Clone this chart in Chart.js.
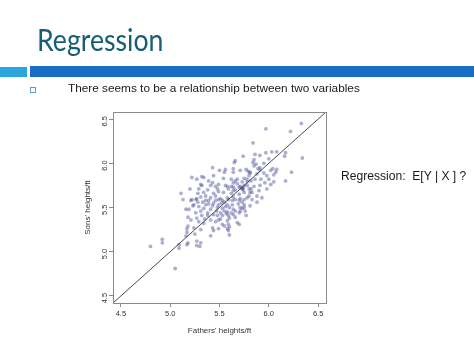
<!DOCTYPE html>
<html>
<head>
<meta charset="utf-8">
<script src="https://cdn.jsdelivr.net/npm/chart.js@4/dist/chart.umd.min.js"></script>
<style>
  html, body { margin: 0; padding: 0; background: #fff; }
  #wrap { position: relative; width: 474px; height: 355px; overflow: hidden; }
  #c { position: absolute; left: 0; top: 0; }
  .t { position: absolute; white-space: nowrap; }
  #title { left: 37px; top: 20px; font-family: Lato, "Open Sans", sans-serif; font-size: 31px; color: #175e75; transform: scaleX(0.86); transform-origin: 0 0; }
  #barL { position: absolute; left: 0; top: 67px; width: 27px; height: 10px; background: #2aa5de; }
  #barR { position: absolute; left: 30px; top: 66px; width: 444px; height: 11px; background: #1b6cc4; }
  #bullet { position: absolute; left: 30px; top: 87px; width: 4px; height: 4px; border: 1px solid #5a9fd0; }
  #sub { left: 68px; top: 81px; font-family: "Liberation Sans", Arial, sans-serif; font-size: 11.8px; color: #1a1a1a; }
  #side { left: 341px; top: 169px; font-family: "Liberation Sans", Arial, sans-serif; font-size: 12.1px; color: #1a1a1a; }
</style>
</head>
<body>
<div id="wrap">
  <canvas id="c" width="474" height="355"></canvas>
  <div class="t" id="title">Regression</div>
  <div id="barL"></div>
  <div id="barR"></div>
  <div id="bullet"></div>
  <div class="t" id="sub">There seems to be a relationship between two variables</div>
  <div class="t" id="side">Regression:&nbsp; E[Y | X ] ?</div>
</div>
<script>
const fatherHeights = [6.33,5.97,6.22,5.84,6.34,6.17,6.16,6.08,6.03,5.97,5.86,5.91,5.74,5.66,5.65,5.85,5.84,6.00,5.95,5.91,6.04,6.08,6.02,6.07,6.23,6.17,
5.43,5.50,5.56,5.55,5.64,5.64,5.71,5.77,5.79,5.81,5.88,5.95,5.98,5.92,5.86,5.82,5.75,5.68,5.66,5.62,5.54,5.44,5.34,5.27,
5.32,5.41,5.49,5.56,5.58,5.64,5.71,5.73,5.78,5.80,5.85,5.91,5.96,6.02,5.98,5.90,5.83,5.75,5.70,5.64,5.62,5.54,5.49,5.44,5.38,5.28,5.20,5.11,
5.13,5.22,5.27,5.31,5.36,5.41,5.39,5.46,5.51,5.53,5.58,5.59,5.64,5.66,5.71,5.78,5.83,5.88,5.93,
5.88,5.81,5.75,5.69,5.71,5.63,5.56,5.49,5.48,5.43,5.36,5.34,5.29,5.24,5.19,
5.26,5.31,5.38,5.44,5.51,5.53,5.58,5.59,5.64,5.70,5.76,5.77,5.66,5.60,5.58,5.68,5.70,
5.51,5.46,5.41,5.34,5.29,5.27,5.21,5.18,5.17,5.24,5.31,5.43,5.44,5.49,5.59,5.60,
5.41,5.60,5.25,5.17,5.16,5.27,5.31,5.17,5.18,5.27,5.30,5.09,5.09,5.05,4.80,4.92,4.92,
6.05,6.00,6.05,5.21,5.23,5.16,5.18,5.33,5.22,5.32,
5.59,5.62,5.64,5.68,5.70,5.66,5.73,5.75,5.78,5.49,5.52,5.55,5.58,5.60,5.63,5.70,5.73,5.75,5.46,5.44,5.47,5.53,5.55,5.57,5.64,5.66,5.62,5.71,5.73,5.75,
5.80,5.81,5.82,5.78,5.80,5.81,5.85,5.87,5.89,5.91,
5.31,5.29,5.34,5.39,5.43,5.46,5.48,5.26,5.28,5.36,5.39,5.41,5.38,5.32,5.35,5.48,5.49,5.53,5.55,5.58,5.59,
5.74,5.74,5.73];

const sonHeights = [6.45,6.39,6.36,6.23,6.06,6.12,6.08,6.13,6.13,6.12,6.10,6.09,6.08,6.03,6.01,6.04,6.01,6.05,6.00,5.95,5.94,5.93,5.92,5.90,5.90,5.80,
5.95,5.92,5.93,5.90,5.94,5.90,5.92,5.93,5.91,5.90,5.88,5.89,5.86,5.82,5.82,5.80,5.83,5.82,5.80,5.82,5.83,5.86,5.84,5.82,
5.75,5.75,5.76,5.75,5.74,5.73,5.74,5.71,5.75,5.71,5.74,5.75,5.78,5.76,5.71,5.69,5.67,5.67,5.65,5.69,5.66,5.67,5.68,5.66,5.70,5.66,5.71,5.66,
5.59,5.59,5.60,5.62,5.63,5.61,5.58,5.63,5.60,5.58,5.61,5.59,5.62,5.59,5.60,5.61,5.59,5.63,5.61,
5.56,5.52,5.53,5.54,5.50,5.53,5.51,5.53,5.50,5.52,5.53,5.49,5.51,5.53,5.48,
5.44,5.46,5.44,5.42,5.44,5.41,5.45,5.41,5.42,5.44,5.46,5.41,5.39,5.38,5.35,5.33,5.31,
5.37,5.34,5.36,5.32,5.34,5.38,5.36,5.29,5.26,5.27,5.25,5.27,5.24,5.26,5.31,5.28,
5.18,5.19,5.20,5.22,5.18,5.12,5.10,5.08,5.10,5.07,5.06,5.04,5.08,4.81,5.06,5.14,5.10,
5.79,5.82,5.87,5.58,5.52,5.48,5.39,5.56,5.84,5.85,
5.71,5.74,5.78,5.77,5.73,5.70,5.79,5.75,5.79,5.59,5.55,5.56,5.53,5.50,5.58,5.58,5.56,5.59,5.58,5.55,5.46,5.49,5.46,5.43,5.48,5.46,5.44,5.46,5.49,5.50,
5.63,5.67,5.71,5.82,5.86,5.89,5.97,5.99,5.94,5.92,
5.76,5.71,5.67,5.80,5.78,5.74,5.71,5.59,5.56,5.58,5.54,5.48,5.41,5.41,5.37,5.41,5.36,5.31,5.29,5.26,5.24,
5.72,5.70,5.72];

const axisRange = [4.42, 6.58];
const xTicks = [4.5, 5.0, 5.5, 6.0, 6.5];
const yTicks = [4.5, 5.0, 5.5, 6.0, 6.5];
const xTitle = "Fathers' heights/ft";
const yTitle = "Sons' heights/ft";

const n = Math.min(fatherHeights.length, sonHeights.length);
const pts = [];
for (let i = 0; i < n; i++) pts.push({ x: fatherHeights[i], y: sonHeights[i] });
const diag = axisRange.map(v => ({ x: v, y: v }));

const boxPlugin = {
  id: 'box',
  afterDatasetsDraw(chart) {
    const a = chart.chartArea, ctx = chart.ctx;
    ctx.save();
    ctx.strokeStyle = '#8a8a8a';
    ctx.lineWidth = 1;
    ctx.strokeRect(Math.round(a.left) + 0.5, Math.round(a.top) + 0.5, Math.round(a.right - a.left), Math.round(a.bottom - a.top));
    ctx.restore();
  }
};

const tickFont = { family: 'Liberation Sans', size: 7.5 };

new Chart(document.getElementById('c'), {
  type: 'scatter',
  data: {
    datasets: [
      {
        data: pts,
        pointRadius: 1.9,
        pointHoverRadius: 1.9,
        pointBackgroundColor: 'rgba(75,75,150,0.45)',
        pointBorderWidth: 0,
        order: 2
      },
      {
        type: 'line',
        data: diag,
        showLine: true,
        borderColor: '#333',
        borderWidth: 0.9,
        pointRadius: 0,
        fill: false,
        order: 1
      }
    ]
  },
  options: {
    responsive: false,
    animation: false,
    events: [],
    layout: { padding: { left: 80, top: 112, right: 148, bottom: 19 } },
    plugins: { legend: { display: false }, tooltip: { enabled: false } },
    scales: {
      x: {
        type: 'linear',
        min: axisRange[0], max: axisRange[1],
        afterBuildTicks: s => { s.ticks = xTicks.map(v => ({ value: v })); },
        afterFit: s => { s.height = 33; },
        grid: { display: true, drawOnChartArea: false, drawTicks: true, tickLength: 4, color: '#8a8a8a' },
        border: { display: false },
        ticks: { font: tickFont, color: '#333', padding: 2, maxRotation: 0, callback: v => Number(v).toFixed(1) },
        title: { display: true, text: xTitle, font: { family: 'Liberation Sans', size: 8 }, color: '#333', padding: { top: 4, bottom: 0 } }
      },
      y: {
        type: 'linear',
        min: axisRange[0], max: axisRange[1],
        afterBuildTicks: s => { s.ticks = yTicks.map(v => ({ value: v })); },
        afterFit: s => { s.width = 33; },
        grid: { display: true, drawOnChartArea: false, drawTicks: true, tickLength: 4, color: '#8a8a8a' },
        border: { display: false },
        ticks: { font: tickFont, color: '#333', padding: 4, labelOffset: -3, minRotation: 90, maxRotation: 90, callback: v => Number(v).toFixed(1) },
        title: { display: true, text: yTitle, font: { family: 'Liberation Sans', size: 8 }, color: '#333', padding: { top: 3, bottom: 0 } }
      }
    }
  },
  plugins: [boxPlugin]
});
</script>
</body>
</html>
